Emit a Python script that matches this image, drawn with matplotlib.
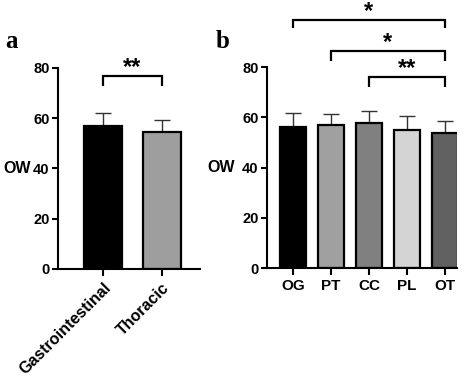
import matplotlib
matplotlib.use("Agg")
import matplotlib.pyplot as plt
from matplotlib.transforms import blended_transform_factory

# Data
cats_a = ["Gastrointestinal", "Thoracic"]
means_a = [56.9, 54.5]
errs_a = [5.3, 4.9]
colors_a = ["#000000", "#9e9e9e"]

cats_b = ["OG", "PT", "CC", "PL", "OT"]
means_b = [56.2, 56.9, 57.6, 54.9, 53.9]
errs_b = [5.4, 4.5, 4.9, 5.6, 4.7]
colors_b = ["#000000", "#a0a0a0", "#808080", "#d4d4d4", "#606060"]

plt.rcParams['font.family'] = ['Liberation Sans', 'DejaVu Sans']
plt.rcParams['font.weight'] = 'bold'

W, H = 474, 376
fig = plt.figure(figsize=(4.74, 3.76), dpi=100)
axa = fig.add_axes([0.1224, 0.2846, 0.2996, 0.5346])
axb = fig.add_axes([0.5633, 0.2872, 0.4008, 0.5346])

def style(ax, xlab_size, ow_right_px):
    for s in ['top', 'right']:
        ax.spines[s].set_visible(False)
    for s in ['left', 'bottom']:
        ax.spines[s].set_linewidth(1.5)
    ax.set_ylim(0, 80)
    ax.set_yticks([0, 20, 40, 60, 80])
    ax.tick_params(axis='both', width=1.5)
    ax.tick_params(axis='y', labelsize=10.5, pad=2, length=4)
    ax.tick_params(axis='x', labelsize=xlab_size, pad=3, length=5)
    for lab in ax.get_yticklabels() + ax.get_xticklabels():
        lab.set_fontweight('bold')
    ax.set_ylabel("OW", fontsize=11.5, fontweight='bold', rotation=0, ha='right', va='center')
    ax.yaxis.set_label_coords(ow_right_px / W, 0.5,
                              transform=blended_transform_factory(fig.transFigure, ax.transAxes))

def bracket(ax, x1, x2, y, h, text):
    ax.plot([x1, x1, x2, x2], [y - h, y, y, y - h], color='black', lw=1.6, clip_on=False,
            solid_joinstyle='miter', solid_capstyle='butt')
    ax.annotate(text, xy=((x1 + x2) / 2, y), xytext=(0, 1.5), textcoords='offset points',
                ha='center', va='baseline', fontsize=17, fontweight='bold', annotation_clip=False)

# Panel a
xa = list(range(len(cats_a)))
axa.bar(xa, means_a, width=0.64, color=colors_a, edgecolor='black', linewidth=1.6, zorder=2)
axa.errorbar(xa, means_a, yerr=[[0]*len(errs_a), errs_a], fmt='none', ecolor='#333333',
             elinewidth=1.0, capsize=5.5, capthick=1.0, zorder=1)
axa.set_xlim(-0.763, 1.644)
axa.set_xticks(xa)
axa.set_xticklabels(cats_a, rotation=45, ha='right', rotation_mode='anchor')
style(axa, 11.5, 31)
bracket(axa, 0, 1, 76.7, 4, "**")

# Panel b
xb = list(range(len(cats_b)))
axb.bar(xb, means_b, width=0.66, color=colors_b, edgecolor='black', linewidth=1.6, zorder=2)
axb.errorbar(xb, means_b, yerr=[[0]*len(errs_b), errs_b], fmt='none', ecolor='#333333',
             elinewidth=1.0, capsize=5.5, capthick=1.0, zorder=1)
axb.set_xlim(-0.684, 4.316)
axb.set_xticks(xb)
axb.set_xticklabels(cats_b)
style(axb, 11, 235)
bracket(axb, 0, 4, 98.7, 3.2, "*")
bracket(axb, 1, 4, 86.5, 4.1, "*")
bracket(axb, 2, 4, 76.0, 4.0, "**")

serif = ['Liberation Serif', 'DejaVu Serif']
fig.text(12/W, 1 - 41/H, "a", fontsize=18, fontweight='bold', family=serif, ha='center', va='center')
fig.text(223/W, 1 - 41/H, "b", fontsize=18, fontweight='bold', family=serif, ha='center', va='center')

fig.savefig("out.png", dpi=100)
